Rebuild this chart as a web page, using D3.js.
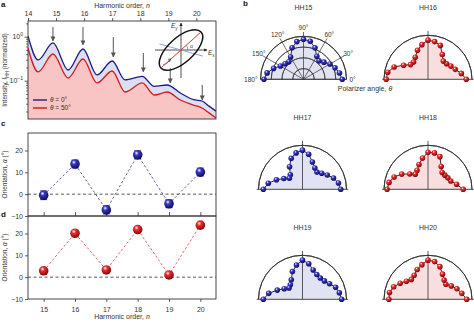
<!DOCTYPE html>
<html><head><meta charset="utf-8">
<script src="https://cdn.jsdelivr.net/npm/d3@7"></script>
<style>
body{margin:0;background:#fff}
svg{display:block}
text{font-family:"Liberation Sans",Arial,sans-serif;fill:#333;opacity:0.995}
</style>
</head><body>
<svg id="fig" width="474" height="322"></svg>
<script>
// ---------------- DATA ----------------
const harmonicTicks = [14, 15, 16, 17, 18, 19, 20];
// panel a spectra (harmonic order, normalized intensity)
const specN0  = [14.0, 14.36, 14.89, 15.43, 15.96, 16.46, 17.0, 17.46, 18.07, 18.5, 18.96, 19.43, 19.9, 20.2, 20.45, 20.7];
const specI0  = [1.04, 0.296, 0.72, 0.175, 0.525, 0.135, 0.28, 0.104, 0.125, 0.074, 0.080, 0.0525, 0.037, 0.0346, 0.0265, 0.0204];
const specN50 = [14.0, 14.36, 14.89, 15.43, 15.96, 16.46, 17.0, 17.46, 18.07, 18.5, 18.96, 19.43, 19.9, 20.2, 20.45, 20.7];
const specI50 = [0.553, 0.158, 0.404, 0.115, 0.311, 0.089, 0.166, 0.0554, 0.089, 0.0473, 0.0554, 0.0364, 0.028, 0.024, 0.0186, 0.0142];
const arrowN    = [14.89, 15.96, 17.04, 18.11, 19.07, 20.21];
const arrowTopI = [1.66, 1.66, 0.98, 0.426, 0.194, 0.080];
const arrowTipI = [0.80, 0.65, 0.346, 0.158, 0.089, 0.0366];
const yTicksA = [1, 0.1];
// panels c, d
const orders = [15, 16, 17, 18, 19, 20];
const alpha0  = [-0.5, 13.8, -7.2, 18.0, -4.4, 10.1];
const alpha0Err = [2.0, 1.8, 1.8, 1.8, 1.8, 1.8];
const alpha50 = [2.9, 20.1, 3.3, 21.8, 1.0, 23.8];
const alphaTicks = [-10, 0, 10, 20];
// panel b polar (polarizer angle in degrees, normalized intensity)
const polarAngles = [0,10,20,30,40,50,60,70,80,90,100,110,120,130,140,150,160,170,180];
const polarGridAngles = [0, 30, 60, 90, 120, 150, 180];
const hh15 = [0.90,0.85,0.78,0.71,0.62,0.56,0.62,0.78,0.90,0.93,0.89,0.78,0.60,0.53,0.56,0.62,0.74,0.86,0.92];
const hh16 = [0.87,0.77,0.66,0.60,0.55,0.54,0.65,0.82,0.87,0.89,0.80,0.70,0.58,0.51,0.52,0.64,0.82,0.93,0.95];
const hh17 = [0.87,0.83,0.75,0.65,0.57,0.51,0.56,0.66,0.81,0.89,0.84,0.75,0.59,0.43,0.39,0.49,0.63,0.79,0.89];
const hh18 = [0.80,0.66,0.55,0.52,0.50,0.50,0.60,0.79,0.84,0.84,0.72,0.60,0.50,0.45,0.54,0.69,0.82,0.90,0.93];
const hh19 = [0.89,0.85,0.80,0.71,0.65,0.63,0.65,0.71,0.82,0.89,0.79,0.67,0.51,0.43,0.40,0.48,0.61,0.78,0.89];
const hh20 = [0.88,0.78,0.70,0.61,0.53,0.57,0.66,0.79,0.87,0.89,0.80,0.72,0.63,0.59,0.64,0.73,0.83,0.89,0.89];

// ---------------- STYLE ----------------
const BLUE = "#1c1c86", RED = "#d01c1c", LAV = "#dcdff2", PINK = "#f8c4c4", PINK_L = "#f8dede", LAV_L = "#e2e3f2";
const AX = "#333", TXT = "#333";
const svg = d3.select("#fig");
const defs = svg.append("defs");
function sphereGrad(id, mid, dark) {
  const g = defs.append("radialGradient").attr("id", id).attr("cx", "38%").attr("cy", "32%").attr("r", "70%");
  g.append("stop").attr("offset", "0%").attr("stop-color", "#ffffff");
  g.append("stop").attr("offset", "30%").attr("stop-color", mid);
  g.append("stop").attr("offset", "100%").attr("stop-color", dark);
}
sphereGrad("sb", "#3a3ac8", "#0a0a55");
sphereGrad("sr", "#e83030", "#7a0505");
defs.append("marker").attr("id", "ah").attr("viewBox", "0 0 10 10").attr("refX", 9).attr("refY", 5)
  .attr("markerWidth", 5).attr("markerHeight", 5).attr("orient", "auto")
  .append("path").attr("d", "M0,0 L10,5 L0,10 z").attr("fill", "#555");
defs.append("marker").attr("id", "ahk").attr("viewBox", "0 0 10 10").attr("refX", 9).attr("refY", 5)
  .attr("markerWidth", 4).attr("markerHeight", 4).attr("orient", "auto")
  .append("path").attr("d", "M0,0 L10,5 L0,10 z").attr("fill", "#222");

function styleAxis(g) {
  g.selectAll("path").attr("stroke", AX).attr("stroke-width", 0.9);
  g.selectAll("line").attr("stroke", AX).attr("stroke-width", 0.8);
  g.selectAll("text").style("font-size", "7px").attr("fill", TXT).style("fill", TXT);
}
// rich text: parts = [[string, {italic, size, dy}], ...]
function rich(parent, x, y, size, parts, anchor, transform) {
  const t = parent.append("text").attr("x", x).attr("y", y).style("font-size", size + "px").style("fill", TXT).attr("text-anchor", anchor || "start");
  if (transform) t.attr("transform", transform);
  parts.forEach(([s, o]) => {
    const sp = t.append("tspan").text(s).style("fill", TXT);
    if (o && o.italic) sp.style("font-style", "italic");
    if (o && o.size) sp.style("font-size", o.size + "px");
    if (o && o.dy) sp.attr("dy", o.dy);
  });
  return t;
}

// panel labels
[["a", 1, 7], ["b", 243, 6], ["c", 1, 126], ["d", 1, 217]].forEach(([t, x, y]) =>
  svg.append("text").attr("x", x).attr("y", y).text(t).style("font-size", "8px").style("font-weight", "bold").style("fill", "#111"));

// ---------------- PANEL A ----------------
const aL = 28, aR = 216, aT = 21, aB = 119;
const xA = d3.scaleLinear().domain([14, 20.7]).range([aL, aR]);
const yA = d3.scaleLog().domain([0.0135, 2.27]).range([aB, aT]);
defs.append("clipPath").attr("id", "clipA").append("rect").attr("x", aL).attr("y", aT).attr("width", aR - aL).attr("height", aB - aT);
const s0 = specN0.map((n, i) => ({n, v: specI0[i]}));
const s50 = specN50.map((n, i) => ({n, v: specI50[i]}));
const gA = svg.append("g").attr("clip-path", "url(#clipA)");
gA.append("path").attr("d", d3.area().x(d => xA(d.n)).y0(aB).y1(d => yA(d.v)).curve(d3.curveMonotoneX)(s0)).attr("fill", LAV);
gA.append("path").attr("d", d3.area().x(d => xA(d.n)).y0(aB).y1(d => yA(d.v)).curve(d3.curveMonotoneX)(s50)).attr("fill", PINK);
gA.append("path").attr("d", d3.line().x(d => xA(d.n)).y(d => yA(d.v)).curve(d3.curveMonotoneX)(s50)).attr("fill", "none").attr("stroke", RED).attr("stroke-width", 1.3);
gA.append("path").attr("d", d3.line().x(d => xA(d.n)).y(d => yA(d.v)).curve(d3.curveMonotoneX)(s0)).attr("fill", "none").attr("stroke", BLUE).attr("stroke-width", 1.3);
svg.append("rect").attr("x", aL).attr("y", aT).attr("width", aR - aL).attr("height", aB - aT).attr("fill", "none").attr("stroke", AX).attr("stroke-width", 0.9);
// top axis
const axTop = svg.append("g").attr("transform", `translate(0,${aT})`).call(d3.axisTop(xA).tickValues(harmonicTicks).tickSize(3).tickPadding(2).tickFormat(d3.format("d")));
styleAxis(axTop); axTop.select(".domain").remove();
rich(svg, 122, 7.5, 7, [["Harmonic order, "], ["n", {italic: true}]], "middle");
// left log axis
const minorA = [];
[0.01, 0.1, 1].forEach(d => { for (let k = 2; k <= 9; k++) { const v = d * k; if (v >= 0.0135 && v <= 2.27) minorA.push(v); } });
const axLm = svg.append("g").attr("transform", `translate(${aL},0)`).call(d3.axisLeft(yA).tickValues(minorA).tickSize(1.8).tickFormat(""));
styleAxis(axLm); axLm.select(".domain").remove();
const axL = svg.append("g").attr("transform", `translate(${aL},0)`).call(d3.axisLeft(yA).tickValues(yTicksA).tickSize(3.5).tickFormat(""));
styleAxis(axL); axL.select(".domain").remove();
yTicksA.forEach(v => {
  const e = Math.round(Math.log10(v));
  rich(svg, aL - 5, yA(v) + 2.5, 7, [["10"], [e === 0 ? "0" : "\u2212" + Math.abs(e), {size: 5, dy: -3}]], "end");
});
rich(svg, 0, 0, 6.5, [["Intensity, "], ["I", {italic: true}], ["HH", {size: 4.5, dy: 1.5}], [" (normalized)", {dy: -1.5}]], "middle", "translate(7,70) rotate(-90)");
// arrows
arrowN.forEach((n, i) => {
  svg.append("line").attr("x1", xA(n)).attr("x2", xA(n)).attr("y1", yA(arrowTopI[i])).attr("y2", yA(arrowTipI[i]))
    .attr("stroke", "#555").attr("stroke-width", 1).attr("marker-end", "url(#ah)");
});
// legend
[[BLUE, "0°", 100], [RED, "50°", 108]].forEach(([c, t, y]) => {
  svg.append("line").attr("x1", 33).attr("x2", 47).attr("y1", y).attr("y2", y).attr("stroke", c).attr("stroke-width", 1.4);
  rich(svg, 50, y + 2.3, 6.5, [["θ", {italic: true}], [" = " + t]]);
});
// inset ellipse schematic
const ins = svg.append("g").attr("transform", "translate(181,50)");
ins.append("line").attr("x1", -26).attr("x2", 26).attr("y1", 0).attr("y2", 0).attr("stroke", "#222").attr("stroke-width", 0.8).attr("marker-end", "url(#ahk)");
ins.append("line").attr("x1", 0).attr("x2", 0).attr("y1", 28).attr("y2", -27).attr("stroke", "#222").attr("stroke-width", 0.8).attr("marker-end", "url(#ahk)");
const rot = ins.append("g").attr("transform", "rotate(-42)");
rot.append("line").attr("x1", -12).attr("x2", 12).attr("y1", -19).attr("y2", 19).attr("stroke", "#8aa0d8").attr("stroke-width", 0.9);
rot.append("line").attr("x1", -26).attr("x2", 26).attr("y1", 0).attr("y2", 0).attr("stroke", "#d03030").attr("stroke-width", 0.9);
rot.append("ellipse").attr("rx", 27).attr("ry", 12.5).attr("fill", "none").attr("stroke", "#111").attr("stroke-width", 1.5);
ins.append("path").attr("d", "M7,0 A7,7 0 0 0 5.2,-4.7").attr("fill", "none").attr("stroke", "#555").attr("stroke-width", 0.6);
rich(ins, 9, -2, 5, [["α", {italic: true}]]);
ins.append("path").attr("d", "M-18,15 A14,14 0 0 0 -10,9").attr("fill", "none").attr("stroke", "#555").attr("stroke-width", 0.6);
rich(ins, -13, 12, 5, [["θ", {italic: true}]]);
rich(ins, 27, 5, 6.5, [["E", {italic: true}], ["x", {size: 4.5, dy: 1.5}]]);
rich(ins, -10, -22, 6.5, [["E", {italic: true}], ["y", {size: 4.5, dy: 1.5}]]);

// ---------------- PANELS C, D ----------------
const xO = d3.scaleLinear().domain([14.5, 20.5]).range([28, 216]);
function orientPanel(top, bot, vals, errs, col, grad, showLabels, innerTicks) {
  const y = d3.scaleLinear().domain([-10, 28]).range([bot, top]);
  svg.append("rect").attr("x", 28).attr("y", top).attr("width", 188).attr("height", bot - top).attr("fill", "none").attr("stroke", AX).attr("stroke-width", 0.9);
  const yl = svg.append("g").attr("transform", "translate(28,0)").call(d3.axisLeft(y).tickValues(alphaTicks).tickSize(3).tickPadding(2).tickFormat(d => d < 0 ? "\u2212" + Math.abs(d) : d));
  styleAxis(yl); yl.select(".domain").remove();
  const xb = svg.append("g").attr("transform", `translate(0,${bot})`).call(d3.axisBottom(xO).tickValues(orders).tickSize(innerTicks ? -4 : 3).tickPadding(5).tickFormat(showLabels ? d3.format("d") : ""));
  styleAxis(xb); xb.select(".domain").remove();
  svg.append("line").attr("x1", 28).attr("x2", 216).attr("y1", y(0)).attr("y2", y(0)).attr("stroke", "#444").attr("stroke-width", 0.9).attr("stroke-dasharray", "3,2.5");
  const pts = orders.map((o, i) => ({o, v: vals[i], e: errs ? errs[i] : 0}));
  svg.append("path").attr("d", d3.line().x(d => xO(d.o)).y(d => y(d.v))(pts)).attr("fill", "none").attr("stroke", col).attr("stroke-width", 0.8).attr("stroke-dasharray", "2.5,2").attr("opacity", 0.85);
  if (errs) {
    pts.forEach(d => {
      svg.append("line").attr("x1", xO(d.o)).attr("x2", xO(d.o)).attr("y1", y(d.v - d.e)).attr("y2", y(d.v + d.e)).attr("stroke", col).attr("stroke-width", 0.9);
      [d.v - d.e, d.v + d.e].forEach(v => svg.append("line").attr("x1", xO(d.o) - 3.5).attr("x2", xO(d.o) + 3.5).attr("y1", y(v)).attr("y2", y(v)).attr("stroke", col).attr("stroke-width", 0.9));
    });
  }
  svg.append("g").selectAll("circle").data(pts).join("circle").attr("cx", d => xO(d.o)).attr("cy", d => y(d.v)).attr("r", 4.8).attr("fill", `url(#${grad})`);
  rich(svg, 0, 0, 6.5, [["Orientation, "], ["α", {italic: true}], [" (°)"]], "middle", `translate(7,${(top + bot) / 2}) rotate(-90)`);
}
orientPanel(133, 216, alpha0, alpha0Err, BLUE, "sb", false, true);
orientPanel(216, 299, alpha50, null, RED, "sr", true, false);
rich(svg, 122, 319, 7, [["Harmonic order, "], ["n", {italic: true}]], "middle");

// ---------------- PANEL B ----------------
function polar(cx, cy, R, title, vals, fillc, grad, grid) {
  const g = svg.append("g").attr("transform", `translate(${cx},${cy})`);
  const r = d3.scaleLinear().domain([0, 1]).range([0, R]);
  const ang = a => Math.PI / 2 - a * Math.PI / 180;
  const pts = polarAngles.map((a, i) => ({a, v: vals[i]}));
  g.append("path").attr("d", d3.areaRadial().angle(d => ang(d.a)).innerRadius(0).outerRadius(d => r(d.v))(pts)).attr("fill", fillc);
  const arcGen = d3.arc().startAngle(-Math.PI / 2).endAngle(Math.PI / 2);
  if (grid) {
    [0.25, 0.5, 0.75].forEach(f => g.append("path").attr("d", arcGen({innerRadius: r(f), outerRadius: r(f)})).attr("fill", "none").attr("stroke", "#333").attr("stroke-width", 0.7));
    polarGridAngles.forEach(a => {
      const ext = (a === 0 || a === 180) ? 1.0 : 1.1;
      g.append("line").attr("x1", 0).attr("y1", 0).attr("x2", r(ext) * Math.cos(a * Math.PI / 180)).attr("y2", -r(ext) * Math.sin(a * Math.PI / 180)).attr("stroke", "#333").attr("stroke-width", 0.7);
      let lx, ly, anchor = "middle";
      if (a === 0) { lx = r(1.07); ly = 2.3; anchor = "start"; }
      else if (a === 180) { lx = -r(1.07); ly = 2.3; anchor = "end"; }
      else { lx = r(1.2) * Math.cos(a * Math.PI / 180); ly = -r(1.2) * Math.sin(a * Math.PI / 180) + 2.3; }
      rich(g, lx, ly, 6.5, [[a + "°"]], anchor);
    });
  } else {
    g.append("line").attr("x1", 0).attr("x2", 0).attr("y1", 0).attr("y2", -r(1.1)).attr("stroke", "#333").attr("stroke-width", 0.8);
  }
  g.append("path").attr("d", arcGen({innerRadius: R, outerRadius: R})).attr("fill", "none").attr("stroke", "#333").attr("stroke-width", 0.9);
  g.append("line").attr("x1", -r(grid ? 1 : 1.04)).attr("x2", r(grid ? 1 : 1.04)).attr("y1", 0).attr("y2", 0).attr("stroke", "#333").attr("stroke-width", 0.9);
  g.append("path").attr("d", d3.lineRadial().angle(d => ang(d.a)).radius(d => r(d.v))(pts)).attr("fill", "none").attr("stroke", "#2a0a20").attr("stroke-width", 0.9);
  g.selectAll("circle.p").data(pts).join("circle").attr("class", "p")
    .attr("cx", d => r(d.v) * Math.cos(d.a * Math.PI / 180)).attr("cy", d => -r(d.v) * Math.sin(d.a * Math.PI / 180))
    .attr("r", 2.8).attr("fill", `url(#${grad})`);
  rich(svg, cx, cy - 72 + 2.5, 7, [[title]], "middle");
}
polar(303.5, 79.3, 43, "HH15", hh15, LAV_L, "sb", true);
polar(428, 79.3, 44, "HH16", hh16, PINK_L, "sr", false);
polar(302.5, 189.3, 44, "HH17", hh17, LAV_L, "sb", false);
polar(428, 189.3, 44, "HH18", hh18, PINK_L, "sr", false);
polar(302.5, 299.3, 44, "HH19", hh19, LAV_L, "sb", false);
polar(428, 299.3, 44, "HH20", hh20, PINK_L, "sr", false);
rich(svg, 365, 91, 7, [["Polarizer angle, "], ["θ", {italic: true}]], "middle");
</script>
</body></html>
